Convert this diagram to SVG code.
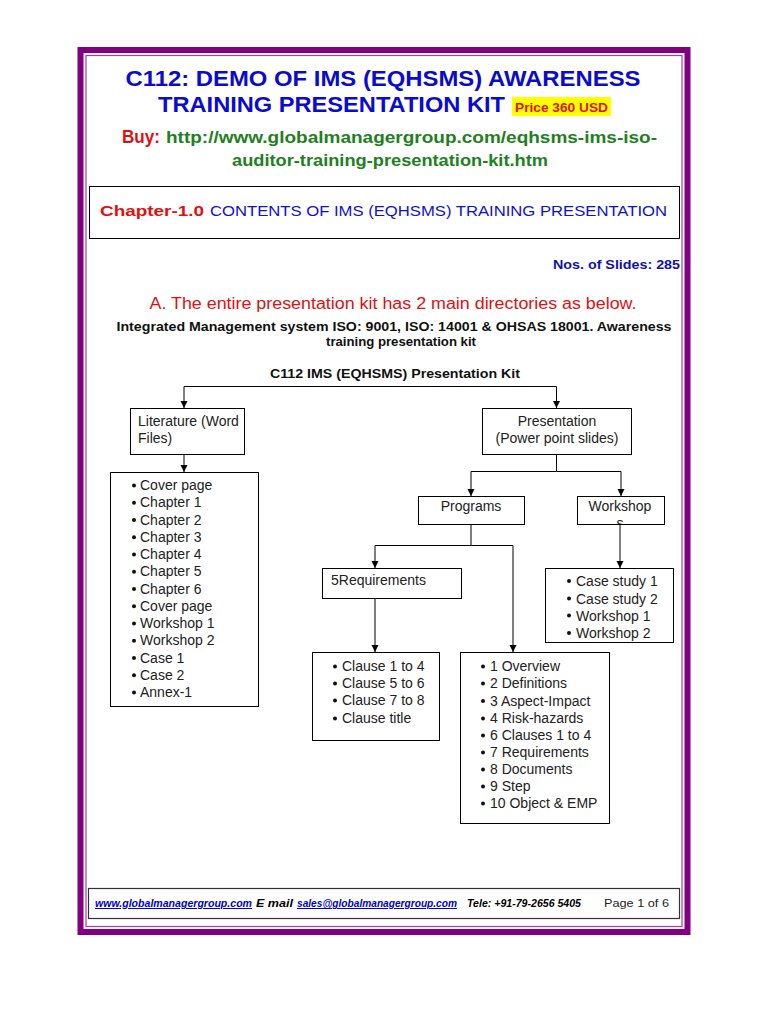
<svg xmlns="http://www.w3.org/2000/svg" width="768" height="1024" viewBox="0 0 768 1024">
<style>
.t{font-family:"Liberation Sans",Arial,sans-serif}
.box{fill:#fff;stroke:#000;stroke-width:1}
.n{font-family:"Liberation Sans",Arial,sans-serif;font-size:14px;fill:#222}
.c{stroke:#000;stroke-width:1;fill:none}
.ft{font-family:"Liberation Sans",Arial,sans-serif;font-size:10px;font-weight:bold;font-style:italic}
.lk{fill:#0000CC;text-decoration:underline}
.b{fill:#111}
</style>
<defs>
<marker id="ar" markerWidth="8" markerHeight="8" refX="7" refY="3.5" orient="auto" markerUnits="userSpaceOnUse">
<path d="M0,0 L7,3.5 L0,7 Z" fill="#000"/>
</marker>
<clipPath id="cw"><rect x="577" y="496" width="87" height="28"/></clipPath>
<clipPath id="cc"><rect x="545" y="568" width="128" height="73"/></clipPath>
</defs>
<rect width="768" height="1024" fill="#fff"/>
<!-- page border -->
<rect x="80.5" y="50" width="607" height="882" fill="none" stroke="#800080" stroke-width="6"/>
<rect x="86" y="55.5" width="596" height="871" fill="none" stroke="#a040a0" stroke-width="1.2"/>

<!-- header -->
<text class="t" x="383" y="86" text-anchor="middle" font-size="22" font-weight="bold" fill="#0a0ad0" textLength="515" lengthAdjust="spacingAndGlyphs">C112: DEMO OF IMS (EQHSMS) AWARENESS</text>
<text class="t" x="158" y="112" font-size="22" font-weight="bold" fill="#0a0ad0" textLength="347" lengthAdjust="spacingAndGlyphs">TRAINING PRESENTATION KIT</text>
<rect x="512" y="97" width="99" height="19" fill="#ffff00"/>
<text class="t" x="515" y="112" font-size="13" font-weight="bold" fill="#e01010" textLength="93" lengthAdjust="spacingAndGlyphs">Price 360 USD</text>
<text class="t" x="122" y="143" font-size="19" font-weight="bold" fill="#e01010" textLength="38" lengthAdjust="spacingAndGlyphs">Buy:</text>
<text class="t" x="166" y="143" font-size="17" font-weight="bold" fill="#1e8020" textLength="491" lengthAdjust="spacingAndGlyphs">http://www.globalmanagergroup.com/eqhsms-ims-iso-</text>
<text class="t" x="390" y="166" text-anchor="middle" font-size="17" font-weight="bold" fill="#1e8020" textLength="316" lengthAdjust="spacingAndGlyphs">auditor-training-presentation-kit.htm</text>

<rect x="89.5" y="186.5" width="590" height="52" fill="#fff" stroke="#000" stroke-width="1"/>
<text class="t" x="100" y="216" font-size="15" font-weight="bold" fill="#e01010" textLength="104" lengthAdjust="spacingAndGlyphs">Chapter-1.0</text>
<text class="t" x="210" y="216" font-size="15" fill="#1010d0" textLength="457" lengthAdjust="spacingAndGlyphs">CONTENTS OF IMS (EQHSMS) TRAINING PRESENTATION</text>

<text class="t" x="680" y="269" text-anchor="end" font-size="12" font-weight="bold" fill="#1010b0" textLength="127" lengthAdjust="spacingAndGlyphs">Nos. of Slides: 285</text>
<text class="t" x="393" y="309" text-anchor="middle" font-size="16" fill="#e01010" textLength="487" lengthAdjust="spacingAndGlyphs">A. The entire presentation kit has 2 main directories as below.</text>
<text class="t" x="394" y="331" text-anchor="middle" font-size="12.5" font-weight="bold" fill="#111" textLength="555" lengthAdjust="spacingAndGlyphs">Integrated Management system ISO: 9001, ISO: 14001 &amp; OHSAS 18001. Awareness</text>
<text class="t" x="401" y="346" text-anchor="middle" font-size="12.5" font-weight="bold" fill="#111" textLength="150" lengthAdjust="spacingAndGlyphs">training presentation kit</text>
<text class="t" x="395" y="378" text-anchor="middle" font-size="12" font-weight="bold" fill="#111" textLength="250" lengthAdjust="spacingAndGlyphs">C112 IMS (EQHSMS) Presentation Kit</text>

<!-- connectors -->
<g id="connectors">
<path class="c" d="M184,386.5 H556.5 V408" marker-end="url(#ar)"/>
<path class="c" d="M184,386.5 V408" marker-end="url(#ar)"/>
<path class="c" d="M184,454 V472" marker-end="url(#ar)"/>
<path class="c" d="M556.5,454 V471.5 H471 V496" marker-end="url(#ar)"/>
<path class="c" d="M556.5,471.5 H621 V496" marker-end="url(#ar)"/>
<path class="c" d="M471,524 V545.5 H375 V568" marker-end="url(#ar)"/>
<path class="c" d="M471,545.5 H513 V652" marker-end="url(#ar)"/>
<path class="c" d="M375,598 V652" marker-end="url(#ar)" stroke="#666"/>
<path class="c" d="M620,524 V568" marker-end="url(#ar)"/>
</g>

<!-- nodes -->
<g id="literature">
<rect class="box" x="130.5" y="408.5" width="114" height="46"/>
<text class="n" x="138" y="426">Literature (Word</text>
<text class="n" x="138" y="443">Files)</text>
</g>
<g id="presentation">
<rect class="box" x="482.5" y="408.5" width="149" height="46"/>
<text class="n" x="557" y="426" text-anchor="middle">Presentation</text>
<text class="n" x="557" y="443" text-anchor="middle">(Power point slides)</text>
</g>
<g id="literature-list">
<rect class="box" x="110.5" y="472.5" width="148" height="234"/>
<g class="b">
<circle cx="134" cy="485.5" r="2"/><circle cx="134" cy="502.75" r="2"/><circle cx="134" cy="520" r="2"/><circle cx="134" cy="537.25" r="2"/><circle cx="134" cy="554.5" r="2"/><circle cx="134" cy="571.75" r="2"/><circle cx="134" cy="589" r="2"/><circle cx="134" cy="606.25" r="2"/><circle cx="134" cy="623.5" r="2"/><circle cx="134" cy="640.75" r="2"/><circle cx="134" cy="658" r="2"/><circle cx="134" cy="675.25" r="2"/><circle cx="134" cy="692.5" r="2"/>
</g>
<g class="n">
<text x="140" y="490">Cover page</text>
<text x="140" y="507.25">Chapter 1</text>
<text x="140" y="524.5">Chapter 2</text>
<text x="140" y="541.75">Chapter 3</text>
<text x="140" y="559">Chapter 4</text>
<text x="140" y="576.25">Chapter 5</text>
<text x="140" y="593.5">Chapter 6</text>
<text x="140" y="610.75">Cover page</text>
<text x="140" y="628">Workshop 1</text>
<text x="140" y="645.25">Workshop 2</text>
<text x="140" y="662.5">Case 1</text>
<text x="140" y="679.75">Case 2</text>
<text x="140" y="697">Annex-1</text>
</g>
</g>
<g id="programs">
<rect class="box" x="418.5" y="496.5" width="106" height="28"/>
<text class="n" x="471" y="511" text-anchor="middle">Programs</text>
</g>
<g id="workshops">
<rect class="box" x="577.5" y="496.5" width="87" height="28"/>
<g clip-path="url(#cw)">
<text class="n" x="620" y="511" text-anchor="middle">Workshop</text>
<text class="n" x="620" y="528" text-anchor="middle">s</text>
</g>
</g>
<g id="requirements">
<rect class="box" x="322.5" y="568.5" width="139" height="30"/>
<text class="n" x="331" y="585">5Requirements</text>
</g>
<g id="workshop-list">
<rect class="box" x="545.5" y="568.5" width="128" height="74"/>
<g clip-path="url(#cc)">
<g class="b">
<circle cx="569" cy="581" r="2"/><circle cx="569" cy="598.5" r="2"/><circle cx="569" cy="615.5" r="2"/><circle cx="569" cy="633" r="2"/>
</g>
<g class="n">
<text x="576" y="586">Case study 1</text>
<text x="576" y="603.5">Case study 2</text>
<text x="576" y="620.5">Workshop 1</text>
<text x="576" y="638">Workshop 2</text>
</g>
</g>
</g>
<g id="clauses">
<rect class="box" x="312.5" y="652.5" width="127" height="88"/>
<g class="b">
<circle cx="335" cy="666.5" r="2"/><circle cx="335" cy="683.5" r="2"/><circle cx="335" cy="700.5" r="2"/><circle cx="335" cy="718.5" r="2"/>
</g>
<g class="n">
<text x="342" y="671">Clause 1 to 4</text>
<text x="342" y="688">Clause 5 to 6</text>
<text x="342" y="705">Clause 7 to 8</text>
<text x="342" y="723">Clause title</text>
</g>
</g>
<g id="overview">
<rect class="box" x="460.5" y="652.5" width="149" height="171"/>
<g class="b">
<circle cx="483" cy="666.5" r="2"/><circle cx="483" cy="683.5" r="2"/><circle cx="483" cy="701" r="2"/><circle cx="483" cy="718.5" r="2"/><circle cx="483" cy="735.5" r="2"/><circle cx="483" cy="752.5" r="2"/><circle cx="483" cy="769.5" r="2"/><circle cx="483" cy="786.5" r="2"/><circle cx="483" cy="803.5" r="2"/>
</g>
<g class="n">
<text x="490" y="671">1 Overview</text>
<text x="490" y="688">2 Definitions</text>
<text x="490" y="705.5">3 Aspect-Impact</text>
<text x="490" y="723">4 Risk-hazards</text>
<text x="490" y="740">6 Clauses 1 to 4</text>
<text x="490" y="757">7 Requirements</text>
<text x="490" y="774">8 Documents</text>
<text x="490" y="791">9 Step</text>
<text x="490" y="808">10 Object &amp; EMP</text>
</g>
</g>

<!-- footer -->
<rect x="88.5" y="888.5" width="591" height="30" fill="#fff" stroke="#333" stroke-width="1.2"/>
<text class="ft lk" x="95" y="907" textLength="157" lengthAdjust="spacingAndGlyphs">www.globalmanagergroup.com</text>
<text class="ft" x="256" y="907" fill="#000" textLength="37" lengthAdjust="spacingAndGlyphs">E mail</text>
<text class="ft lk" x="297" y="907" textLength="160" lengthAdjust="spacingAndGlyphs">sales@globalmanagergroup.com</text>
<text class="ft" x="467" y="907" fill="#000" textLength="114" lengthAdjust="spacingAndGlyphs">Tele: +91-79-2656 5405</text>
<text class="t" x="604" y="907" font-size="11" fill="#222" textLength="65" lengthAdjust="spacingAndGlyphs">Page 1 of 6</text>
</svg>
